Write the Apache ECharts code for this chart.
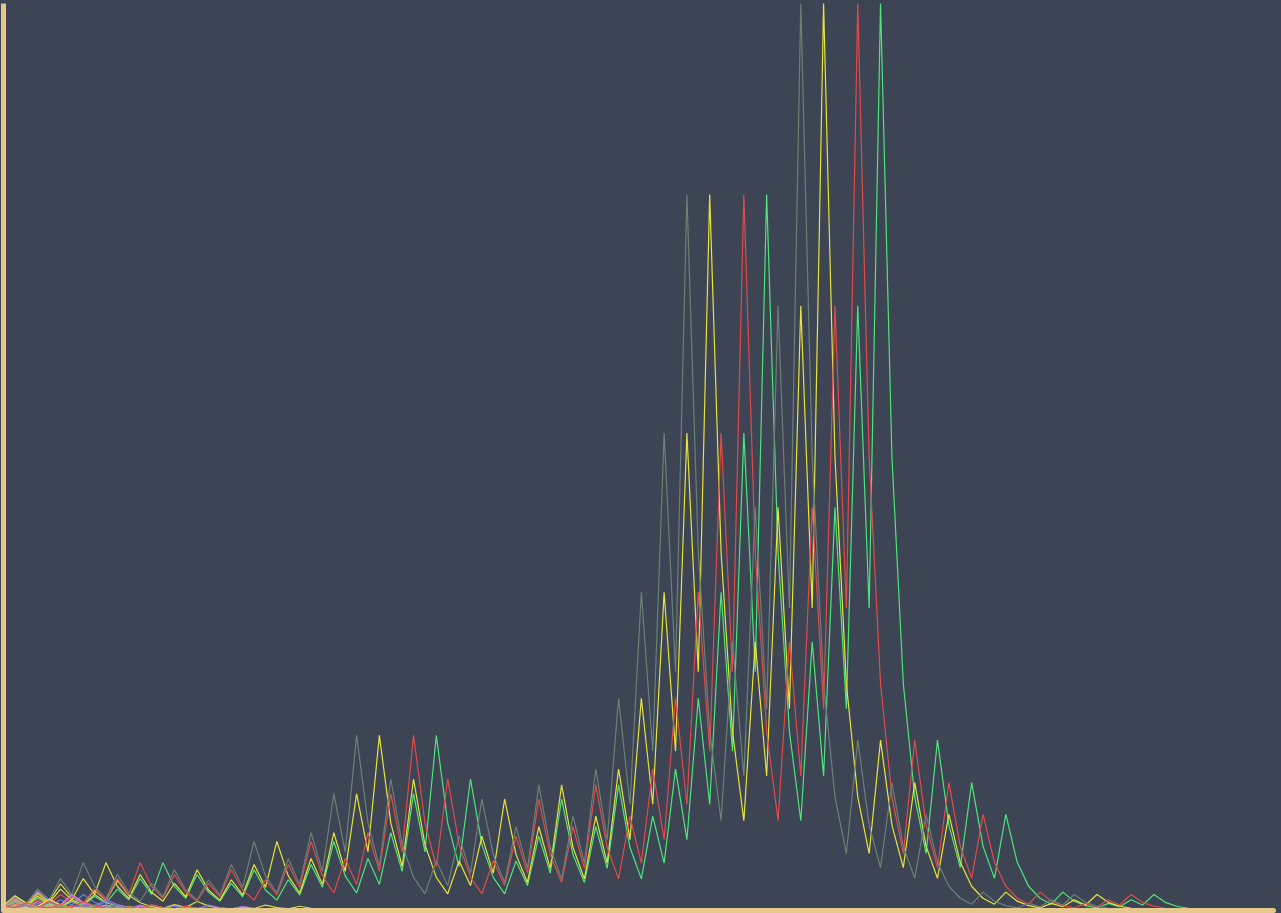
<!DOCTYPE html>
<html>
<head>
<meta charset="utf-8">
<script src="https://cdn.jsdelivr.net/npm/echarts@6/dist/echarts.min.js"></script>
<style>
html,body{margin:0;padding:0;background:#3d4453;}
#chart{width:1281px;height:913px;}
</style>
</head>
<body>
<div id="chart"></div>
<script>
// Collatz trajectories, one series per starting number
const seq1 = [1];
const seq2 = [2,1];
const seq3 = [3,10,5,16,8,4,2,1];
const seq4 = [4,2,1];
const seq5 = [5,16,8,4,2,1];
const seq6 = [6,3,10,5,16,8,4,2,1];
const seq7 = [7,22,11,34,17,52,26,13,40,20,10,5,16,8,4,2,1];
const seq8 = [8,4,2,1];
const seq9 = [9,28,14,7,22,11,34,17,52,26,13,40,20,10,5,16,8,4,2,1];
const seq10 = [10,5,16,8,4,2,1];
const seq11 = [11,34,17,52,26,13,40,20,10,5,16,8,4,2,1];
const seq12 = [12,6,3,10,5,16,8,4,2,1];
const seq13 = [13,40,20,10,5,16,8,4,2,1];
const seq14 = [14,7,22,11,34,17,52,26,13,40,20,10,5,16,8,4,2,1];
const seq15 = [15,46,23,70,35,106,53,160,80,40,20,10,5,16,8,4,2,1];
const seq16 = [16,8,4,2,1];
const seq17 = [17,52,26,13,40,20,10,5,16,8,4,2,1];
const seq18 = [18,9,28,14,7,22,11,34,17,52,26,13,40,20,10,5,16,8,4,2,1];
const seq19 = [19,58,29,88,44,22,11,34,17,52,26,13,40,20,10,5,16,8,4,2,1];
const seq20 = [20,10,5,16,8,4,2,1];
const seq21 = [21,64,32,16,8,4,2,1];
const seq22 = [22,11,34,17,52,26,13,40,20,10,5,16,8,4,2,1];
const seq23 = [23,70,35,106,53,160,80,40,20,10,5,16,8,4,2,1];
const seq24 = [24,12,6,3,10,5,16,8,4,2,1];
const seq25 = [25,76,38,19,58,29,88,44,22,11,34,17,52,26,13,40,20,10,5,16,8,4,2,1];
const seq26 = [26,13,40,20,10,5,16,8,4,2,1];
const seq27 = [27,82,41,124,62,31,94,47,142,71,214,107,322,161,484,242,121,364,182,91,
  274,137,412,206,103,310,155,466,233,700,350,175,526,263,790,395,1186,593,1780,890,
  445,1336,668,334,167,502,251,754,377,1132,566,283,850,425,1276,638,319,958,479,1438,
  719,2158,1079,3238,1619,4858,2429,7288,3644,1822,911,2734,1367,4102,2051,6154,3077,9232,4616,2308,
  1154,577,1732,866,433,1300,650,325,976,488,244,122,61,184,92,46,23,70,35,106,
  53,160,80,40,20,10,5,16,8,4,2,1];
const seq28 = [28,14,7,22,11,34,17,52,26,13,40,20,10,5,16,8,4,2,1];
const seq29 = [29,88,44,22,11,34,17,52,26,13,40,20,10,5,16,8,4,2,1];
const seq30 = [30,15,46,23,70,35,106,53,160,80,40,20,10,5,16,8,4,2,1];
const seq31 = [31,94,47,142,71,214,107,322,161,484,242,121,364,182,91,
  274,137,412,206,103,310,155,466,233,700,350,175,526,263,790,395,1186,593,1780,890,
  445,1336,668,334,167,502,251,754,377,1132,566,283,850,425,1276,638,319,958,479,1438,
  719,2158,1079,3238,1619,4858,2429,7288,3644,1822,911,2734,1367,4102,2051,6154,3077,9232,4616,2308,
  1154,577,1732,866,433,1300,650,325,976,488,244,122,61,184,92,46,23,70,35,106,
  53,160,80,40,20,10,5,16,8,4,2,1];
const seq32 = [32,16,8,4,2,1];
const seq33 = [33,100,50,25,76,38,19,58,29,88,44,22,11,34,17,52,26,13,40,20,10,5,16,8,4,2,1];
const seq34 = [34,17,52,26,13,40,20,10,5,16,8,4,2,1];
const seq35 = [35,106,53,160,80,40,20,10,5,16,8,4,2,1];
const seq36 = [36,18,9,28,14,7,22,11,34,17,52,26,13,40,20,10,5,16,8,4,2,1];
const seq37 = [37,112,56,28,14,7,22,11,34,17,52,26,13,40,20,10,5,16,8,4,2,1];
const seq38 = [38,19,58,29,88,44,22,11,34,17,52,26,13,40,20,10,5,16,8,4,2,1];
const seq39 = [39,118,59,178,89,268,134,67,202,101,304,152,76,38,19,58,29,88,44,22,11,34,17,52,26,13,40,20,10,5,16,8,4,2,1];
const seq40 = [40,20,10,5,16,8,4,2,1];
const seq41 = [41,124,62,31,94,47,142,71,214,107,322,161,484,242,121,364,182,91,
  274,137,412,206,103,310,155,466,233,700,350,175,526,263,790,395,1186,593,1780,890,
  445,1336,668,334,167,502,251,754,377,1132,566,283,850,425,1276,638,319,958,479,1438,
  719,2158,1079,3238,1619,4858,2429,7288,3644,1822,911,2734,1367,4102,2051,6154,3077,9232,4616,2308,
  1154,577,1732,866,433,1300,650,325,976,488,244,122,61,184,92,46,23,70,35,106,
  53,160,80,40,20,10,5,16,8,4,2,1];
const seq42 = [42,21,64,32,16,8,4,2,1];
const seq43 = [43,130,65,196,98,49,148,74,37,112,56,28,14,7,22,11,34,17,52,26,13,40,20,10,5,16,8,4,2,1];
const seq44 = [44,22,11,34,17,52,26,13,40,20,10,5,16,8,4,2,1];
const seq45 = [45,136,68,34,17,52,26,13,40,20,10,5,16,8,4,2,1];
const seq46 = [46,23,70,35,106,53,160,80,40,20,10,5,16,8,4,2,1];
const seq47 = [47,142,71,214,107,322,161,484,242,121,364,182,91,
  274,137,412,206,103,310,155,466,233,700,350,175,526,263,790,395,1186,593,1780,890,
  445,1336,668,334,167,502,251,754,377,1132,566,283,850,425,1276,638,319,958,479,1438,
  719,2158,1079,3238,1619,4858,2429,7288,3644,1822,911,2734,1367,4102,2051,6154,3077,9232,4616,2308,
  1154,577,1732,866,433,1300,650,325,976,488,244,122,61,184,92,46,23,70,35,106,
  53,160,80,40,20,10,5,16,8,4,2,1];
const seq48 = [48,24,12,6,3,10,5,16,8,4,2,1];
const seq49 = [49,148,74,37,112,56,28,14,7,22,11,34,17,52,26,13,40,20,10,5,16,8,4,2,1];
const seq50 = [50,25,76,38,19,58,29,88,44,22,11,34,17,52,26,13,40,20,10,5,16,8,4,2,1];

const allSeqs = [seq1,seq2,seq3,seq4,seq5,seq6,seq7,seq8,seq9,seq10,
  seq11,seq12,seq13,seq14,seq15,seq16,seq17,seq18,seq19,seq20,
  seq21,seq22,seq23,seq24,seq25,seq26,seq27,seq28,seq29,seq30,
  seq31,seq32,seq33,seq34,seq35,seq36,seq37,seq38,seq39,seq40,
  seq41,seq42,seq43,seq44,seq45,seq46,seq47,seq48,seq49,seq50];

const palette = ['#e67dd1','#6b8077','#d6d94a','#e6e63a','#e24a4a','#5a86e0','#9d6fe0','#e09550','#4ee67a'];

const chart = echarts.init(document.getElementById('chart'), null, {renderer:'canvas'});
chart.setOption({
  backgroundColor: '#3d4453',
  animation: false,
  color: palette,
  grid: {left: 3.5, right: 7.5, top: 3.5, bottom: 2.8, containLabel: false},
  xAxis: {
    type: 'value', min: 0, max: 111.5, z: 10,
    axisLine: {show: true, lineStyle: {color: '#e6c78c', width: 5}},
    axisTick: {show: false}, axisLabel: {show: false}, splitLine: {show: false}
  },
  yAxis: {
    type: 'value', min: 0, max: 'dataMax', z: 10,
    axisLine: {show: true, lineStyle: {color: '#e6c78c', width: 5, cap: 'butt'}},
    axisTick: {show: false}, axisLabel: {show: false}, splitLine: {show: false}
  },
  series: allSeqs.map((s, k) => ({
    name: String(k + 1),
    type: 'line',
    showSymbol: false,
    symbol: 'none',
    lineStyle: {width: 1.2},
    emphasis: {disabled: true},
    data: s.map((v, i) => [i, v])
  }))
});
</script>
</body>
</html>
